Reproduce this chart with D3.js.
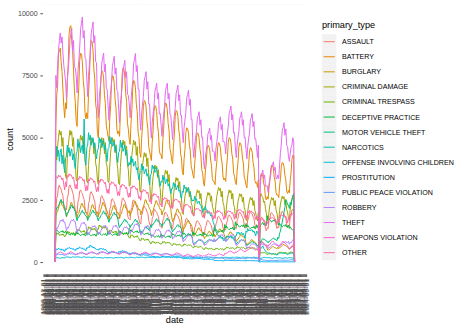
<!DOCTYPE html>
<html><head><meta charset="utf-8">
<script src="https://cdn.jsdelivr.net/npm/d3@7"></script>
<style>
body{margin:0;background:#fff}
svg{display:block}
text{font-family:"Liberation Sans",Arial,Helvetica,sans-serif}
</style>
</head><body>
<svg id="chart" width="474" height="329"></svg>
<script>
// ---------- DATA (monthly counts, 2001-01 .. 2023-08) ----------
const categories = ["ASSAULT","BATTERY","BURGLARY","CRIMINAL DAMAGE","CRIMINAL TRESPASS","DECEPTIVE PRACTICE","MOTOR VEHICLE THEFT","NARCOTICS","OFFENSE INVOLVING CHILDREN","PROSTITUTION","PUBLIC PEACE VIOLATION","ROBBERY","THEFT","WEAPONS VIOLATION","OTHER"];
const firstMonth = "2001-01-01";
const lastMonth = "2023-08-01";
const yTickValues = [0, 2500, 5000, 7500, 10000];

const assault = [
10,2090,2560,2690,3030,3090,2980,2930,2770,2670,2300,2090,
2150,2100,2570,2700,3050,3100,2990,2940,2780,2680,2310,2100,
2020,1970,2410,2530,2850,2900,2800,2760,2610,2510,2160,1970,
1970,1920,2350,2470,2780,2830,2740,2690,2540,2450,2110,1920,
1850,1810,2210,2330,2620,2670,2580,2530,2400,2310,1990,1810,
1770,1730,2120,2220,2510,2550,2460,2420,2290,2200,1900,1730,
1800,1750,2150,2260,2540,2580,2500,2450,2320,2230,1930,1750,
1740,1700,2080,2180,2460,2500,2420,2370,2250,2160,1870,1700,
1570,1530,1870,1970,2220,2250,2180,2140,2020,1950,1680,1530,
1470,1430,1750,1840,2080,2110,2040,2000,1900,1830,1580,1430,
1390,1360,1670,1750,1970,2010,1940,1900,1800,1730,1500,1360,
1360,1330,1630,1710,1930,1960,1890,1860,1760,1690,1460,1330,
1220,1190,1460,1530,1730,1760,1700,1670,1580,1520,1310,1190,
1160,1130,1380,1450,1640,1660,1610,1580,1490,1440,1240,1130,
1160,1140,1390,1460,1650,1680,1620,1590,1510,1450,1250,1140,
1280,1250,1530,1610,1810,1840,1780,1750,1650,1590,1370,1250,
1320,1290,1580,1660,1870,1900,1840,1800,1710,1640,1420,1290,
1390,1360,1670,1750,1970,2010,1940,1900,1800,1730,1500,1360,
1410,1380,1690,1770,2000,2030,1960,1930,1820,1750,1510,1380,
1450,1400,1500,250,1650,1800,1800,1750,1650,1600,1350,1250,
1390,1350,1660,1740,1960,1990,1930,1890,1790,1720,1490,1350,
1420,1380,1700,1780,2010,2040,1970,1940,1830,1760,1520,1380,
1480,1440,1760,1850,2090,2120,2050,10];

const battery = [
30,5500,6700,7050,8400,8450,8600,8050,7650,6950,6250,5800,
6400,6150,7250,7950,9150,9450,9500,8900,8450,7700,6900,6400,
5650,5450,6400,7050,8100,8400,8350,8050,7300,6950,6000,5750,
6000,5770,6780,7460,8580,8900,8850,8520,7750,7360,6360,6100,
5200,4990,5870,6450,7420,7700,7650,7380,6700,6370,5500,5280,
5060,4860,5720,6290,7230,7500,7460,7190,6530,6200,5350,5150,
5260,5050,5950,6530,7520,7800,7750,7470,6790,6450,5570,5340,
4920,4730,5560,6120,7030,7300,7250,7000,6350,6040,5210,5000,
4380,4210,4960,5450,6260,6500,6460,6230,5660,5380,4640,4460,
4250,4080,4800,5280,6060,6300,6260,6040,5480,5210,4500,4320,
4310,4150,4880,5360,6160,6400,6360,6130,5570,5300,4570,4390,
4110,3950,4650,5110,5870,6100,6060,5850,5310,5050,4350,4190,
3640,3500,4120,4520,5200,5400,5360,5180,4700,4470,3850,3710,
3510,3370,3960,4360,5000,5200,5160,4980,4530,4300,3710,3580,
3170,3050,3580,3940,4520,4700,4670,4510,4100,3890,3350,3240,
3230,3110,3660,4020,4620,4800,4770,4600,4180,3980,3420,3300,
3370,3240,3810,4190,4810,5000,4970,4790,4360,4140,3570,3440,
3230,3110,3660,4020,4620,4800,4770,4600,4180,3980,3420,3300,
3100,2980,3500,3860,4420,4600,4570,4410,4010,3810,3280,3170,
3200,3000,3300,600,3300,3550,3550,3450,3150,3050,2550,2500,
2630,2530,2970,3270,3750,3900,3880,3740,3400,3230,2780,2690,
2700,2590,3050,3350,3850,4000,3980,3840,3490,3310,2850,2760,
2880,2780,3270,3590,4120,4300,4270,15];

const burglary = [
10,1840,2000,2020,2170,2280,2430,2430,2280,2280,2170,2080,
2020,1810,1960,1980,2130,2240,2390,2390,2240,2240,2130,2040,
2000,1790,1930,1950,2100,2210,2350,2350,2210,2210,2100,2020,
1950,1740,1890,1910,2050,2150,2300,2300,2150,2150,2050,1970,
2020,1810,1960,1980,2130,2240,2390,2390,2240,2240,2130,2040,
1930,1730,1870,1890,2030,2130,2270,2270,2130,2130,2030,1950,
1970,1760,1900,1930,2070,2170,2320,2320,2170,2170,2070,1990,
2070,1850,2010,2030,2180,2290,2440,2440,2290,2290,2180,2090,
2120,1900,2050,2070,2230,2340,2500,2500,2340,2340,2230,2140,
2090,1870,2020,2050,2200,2310,2460,2460,2310,2310,2200,2110,
2110,1890,2040,2060,2220,2330,2490,2490,2330,2330,2220,2130,
1810,1620,1750,1770,1900,2000,2130,2130,2000,2000,1900,1820,
1420,1270,1370,1390,1490,1560,1670,1670,1560,1560,1490,1430,
1160,1040,1120,1130,1220,1280,1370,1370,1280,1280,1220,1170,
1050,940,1010,1020,1100,1160,1230,1230,1160,1160,1100,1060,
1130,1010,1090,1110,1190,1250,1330,1330,1250,1250,1190,1140,
1030,920,990,1000,1080,1130,1210,1210,1130,1130,1080,1040,
930,830,900,910,980,1030,1100,1100,1030,1030,980,940,
760,680,740,740,800,840,900,900,840,840,800,770,
700,650,680,110,750,850,800,780,720,720,680,650,
520,470,510,510,550,580,620,620,580,580,550,530,
600,540,580,590,630,660,710,710,660,660,630,600,
570,510,550,560,600,630,670,5];

const criminalDamage = [
10,4600,4100,4650,5000,5300,5100,5250,4650,5000,4250,4000,
3450,3350,4150,4650,5000,5300,5100,5250,4650,5000,4250,4000,
3300,3250,3950,4500,4800,5100,4900,5050,4450,4850,4050,3850,
3250,3180,3880,4400,4700,5000,4800,4950,4350,4750,3980,3780,
3300,3120,3950,4350,4750,5000,4750,4980,4350,4800,3950,3830,
3220,3200,3860,4420,4680,5000,4810,4930,4390,4720,4000,3760,
3170,3110,3800,4310,4610,4900,4700,4850,4280,4660,3900,3710,
3050,3080,3780,4300,4620,4900,4710,4840,4290,4640,3880,3680,
2850,2800,3410,3870,4140,4400,4230,4360,3840,4180,3500,3330,
2520,2480,3030,3430,3670,3900,3740,3860,3400,3710,3100,2950,
2400,2350,2870,3260,3480,3700,3550,3670,3230,3520,2940,2800,
2200,2160,2640,2990,3200,3400,3270,3370,2970,3230,2710,2570,
1950,1910,2330,2640,2820,3000,2880,2970,2620,2850,2390,2270,
1880,1850,2250,2550,2730,2900,2780,2870,2530,2760,2310,2200,
1820,1790,2170,2470,2640,2800,2690,2780,2440,2660,2230,2120,
1950,1910,2330,2640,2820,3000,2880,2970,2620,2850,2390,2270,
1880,1850,2250,2550,2730,2900,2780,2870,2530,2760,2310,2200,
1790,1760,2130,2430,2590,2750,2640,2730,2410,2610,2190,2090,
1690,1660,2020,2290,2450,2600,2490,2580,2270,2470,2070,1970,
1750,1650,2000,350,2550,2750,2650,2600,2400,2450,2150,1950,
1690,1660,2020,2290,2450,2600,2490,2580,2270,2470,2070,1970,
1720,1690,2060,2330,2500,2650,2540,2630,2310,2520,2110,2010,
1750,1720,2090,2370,2540,2700,2590,10];

const criminalTrespass = [
5,1050,1180,1130,1160,1080,1070,1120,1080,1130,1070,1010,
1100,1100,1240,1190,1220,1140,1130,1180,1140,1190,1130,1070,
1170,1170,1320,1270,1290,1210,1190,1250,1210,1270,1190,1130,
1260,1260,1420,1360,1390,1300,1290,1350,1300,1360,1290,1220,
1320,1320,1490,1430,1460,1360,1350,1420,1360,1430,1350,1280,
1150,1150,1290,1250,1270,1190,1170,1230,1190,1250,1170,1110,
1080,1080,1220,1170,1200,1120,1110,1160,1120,1170,1110,1050,
970,970,1100,1060,1080,1000,990,1050,1000,1060,990,940,
860,860,960,930,950,880,870,920,880,930,870,830,
740,740,830,800,820,760,760,800,760,800,760,720,
740,740,830,800,820,760,760,800,760,800,760,720,
670,670,750,720,740,690,680,710,690,720,680,640,
650,650,730,700,710,670,660,690,670,700,660,630,
580,580,650,630,640,600,590,620,600,630,590,560,
510,510,580,560,570,530,520,550,530,560,520,500,
500,500,560,540,550,510,510,540,510,540,510,480,
540,540,600,580,590,550,550,580,550,580,550,520,
550,550,620,590,600,560,560,590,560,590,560,530,
540,540,600,580,590,550,550,580,550,580,550,520,
520,500,450,80,350,380,370,380,370,380,360,330,
310,310,350,330,340,320,320,330,320,330,320,300,
360,360,400,390,390,370,360,380,370,390,360,350,
360,360,410,390,400,370,370,5];

const deceptivePractice = [
5,1240,1300,1240,1220,1180,1200,1240,1200,1260,1180,1180,
1250,1140,1200,1140,1120,1080,1110,1140,1110,1160,1080,1080,
1230,1120,1180,1120,1100,1060,1090,1120,1090,1140,1060,1060,
1220,1110,1170,1110,1090,1050,1080,1110,1080,1130,1050,1050,
1240,1130,1190,1130,1110,1070,1100,1130,1100,1150,1070,1070,
1240,1130,1190,1130,1110,1070,1100,1130,1100,1150,1070,1070,
1300,1180,1240,1180,1160,1120,1140,1180,1140,1200,1120,1120,
1360,1240,1300,1240,1220,1180,1200,1240,1200,1260,1180,1180,
1280,1160,1220,1160,1140,1100,1130,1160,1130,1180,1100,1100,
1160,1050,1100,1050,1030,1000,1020,1050,1020,1070,1000,1000,
1140,1040,1090,1040,1020,990,1010,1040,1010,1060,990,990,
1190,1080,1130,1080,1060,1030,1050,1080,1050,1100,1030,1030,
1220,1110,1170,1110,1090,1050,1080,1110,1080,1130,1050,1050,
1220,1110,1170,1110,1090,1050,1080,1110,1080,1130,1050,1050,
1200,1090,1140,1090,1070,1040,1060,1090,1060,1110,1040,1040,
1390,1260,1320,1260,1230,1200,1220,1260,1220,1290,1200,1200,
1510,1370,1440,1370,1340,1300,1330,1370,1330,1400,1300,1300,
1620,1470,1540,1470,1440,1400,1430,1470,1430,1500,1400,1400,
1550,1410,1480,1410,1380,1340,1370,1410,1370,1440,1340,1340,
1500,1400,1350,250,1450,1500,1550,1600,1500,1550,1450,1500,
1860,1690,1770,1690,1660,1610,1640,1690,1640,1720,1610,1610,
1630,1480,1550,1480,1450,1410,1440,1480,1440,1510,1410,1410,
1490,1350,1420,1350,1320,1280,1310,5];

const motorVehicleTheft = [
10,2020,2180,2180,2290,2340,2450,2520,2380,2430,2290,2240,
1990,1840,1990,1990,2090,2130,2240,2300,2170,2220,2090,2050,
1800,1660,1800,1800,1890,1930,2020,2080,1970,2000,1890,1850,
1810,1670,1810,1810,1900,1940,2030,2090,1980,2010,1900,1860,
1780,1650,1780,1780,1870,1910,2000,2060,1940,1980,1870,1830,
1730,1600,1730,1730,1820,1860,1950,2000,1890,1930,1820,1780,
1490,1380,1490,1490,1570,1600,1680,1730,1630,1660,1570,1540,
1490,1380,1490,1490,1570,1600,1680,1730,1630,1660,1570,1540,
1230,1140,1230,1230,1290,1320,1380,1420,1340,1370,1290,1260,
1500,1390,1500,1500,1580,1610,1690,1740,1640,1670,1580,1550,
1530,1420,1530,1530,1610,1640,1720,1770,1670,1710,1610,1580,
1300,1210,1300,1300,1370,1400,1470,1510,1420,1450,1370,1340,
1000,920,1000,1000,1050,1070,1120,1160,1090,1110,1050,1030,
780,730,780,780,830,840,880,910,860,870,830,810,
800,740,800,800,840,860,900,920,870,890,840,820,
890,830,890,890,940,960,1010,1030,980,1000,940,920,
900,840,900,900,950,970,1020,1050,990,1010,950,930,
790,730,790,790,830,850,890,910,860,880,830,810,
710,660,710,710,750,770,800,830,780,800,750,740,
700,650,700,140,750,850,900,950,900,920,860,850,
830,770,840,840,880,900,940,970,920,930,880,860,
1000,950,1150,1250,1450,1600,1800,2000,2200,2500,2450,2300,
2300,2150,2400,2300,2500,2600,2750,10];

const narcotics = [
10,4300,4650,4250,4500,4050,4400,4550,3950,4300,3850,3600,
4150,4300,4700,4400,4600,4250,4450,4550,4100,4350,3950,3750,
4350,4450,4950,4600,4800,4400,4600,4700,4350,5750,4150,3900,
4600,4700,5200,4900,5100,4700,4850,5000,4600,4800,4400,4150,
4500,4550,5000,4800,4950,4600,4750,4900,4500,4700,4300,4050,
4550,4600,5050,4750,5000,4650,4700,4850,4450,4650,4250,4000,
4400,4450,4900,4600,4800,4450,4550,4700,4300,4500,4100,3850,
4000,3900,4250,4000,4150,3850,3950,4050,3700,3800,3500,3300,
3550,3600,3950,3700,3850,3550,3650,3750,3450,3550,3300,3100,
3500,3550,3900,3750,3850,3600,3650,3800,3450,3500,3300,3050,
3250,3200,3500,3300,3400,3150,3250,3350,3050,3150,2950,2750,
2950,2950,3200,3050,3150,2900,3000,3100,2850,2900,2700,2550,
2850,2800,3100,2950,3000,2800,2900,3000,2750,2800,2600,2450,
2500,2450,2650,2500,2550,2350,2400,2450,2300,2300,2150,2000,
2150,2100,2250,2100,2100,1950,2000,2000,1850,1900,1750,1600,
1500,1300,1250,1150,1100,1050,1050,1050,950,1000,900,850,
950,950,1050,1000,1050,980,1000,1020,950,980,920,850,
1050,1050,1200,1150,1200,1100,1150,1200,1100,1150,1050,950,
1250,1200,1350,1250,1300,1250,1300,1300,1200,1250,1150,1050,
1250,1200,1100,150,500,550,600,650,550,500,450,400,
380,350,380,350,340,320,330,340,310,320,300,280,
320,330,370,360,370,350,360,370,340,350,320,300,
330,320,360,350,370,360,350,5];

const offenseInvolvingChildren = [
1,170,180,170,170,160,150,160,180,180,170,160,
210,200,210,200,200,190,180,190,210,210,200,190,
210,200,210,200,200,190,180,190,210,210,200,190,
200,190,200,190,190,180,170,180,200,200,190,180,
180,175,185,175,175,165,160,165,185,185,175,165,
185,170,180,175,175,170,155,170,180,185,175,170,
190,180,190,180,180,170,160,170,190,190,180,170,
195,185,195,185,185,175,165,175,195,195,185,175,
200,190,200,190,190,180,170,180,200,200,190,180,
200,190,200,190,190,180,170,180,200,200,190,180,
210,200,210,200,200,190,180,190,210,210,200,190,
200,190,200,190,190,180,170,180,200,200,190,180,
200,190,200,190,190,180,170,180,200,200,190,180,
190,180,190,180,180,170,160,170,190,190,180,170,
180,170,180,170,170,160,150,160,180,180,170,160,
190,180,190,180,180,170,160,170,190,190,180,170,
195,185,195,185,185,175,165,175,195,195,185,175,
200,190,200,190,190,180,170,180,200,200,190,180,
195,185,195,185,185,175,165,175,195,195,185,175,
190,180,170,30,150,160,160,170,190,190,180,170,
180,170,180,170,170,160,150,160,180,180,170,160,
175,165,175,165,165,155,150,155,175,175,165,155,
180,170,180,170,170,160,150,1];

const prostitution = [
2,480,530,500,560,520,500,530,470,510,450,430,
530,500,560,540,590,560,530,560,510,540,480,460,
540,510,570,540,600,570,540,570,510,540,490,460,
580,560,610,590,690,640,590,620,560,580,520,500,
510,480,540,510,560,540,510,540,480,510,460,430,
390,370,410,390,430,410,390,410,370,390,350,330,
420,400,440,420,460,440,420,440,400,420,380,360,
350,330,360,350,380,360,340,360,330,340,310,290,
280,270,290,280,310,290,280,290,270,280,250,240,
210,200,220,210,230,220,210,220,200,210,190,180,
220,210,230,220,240,230,220,230,210,220,200,190,
210,200,220,210,230,220,210,220,200,210,190,180,
140,130,150,140,150,150,140,150,130,140,130,120,
140,135,145,140,155,145,140,145,135,140,125,120,
110,100,120,110,120,115,110,115,105,110,100,95,
70,60,65,60,65,60,60,60,55,60,50,50,
65,60,70,65,70,70,65,70,60,65,60,55,
60,55,60,58,65,60,58,60,55,58,52,50,
57,54,60,57,63,60,57,60,54,57,51,48,
50,45,30,3,10,15,15,15,12,12,10,10,
10,10,12,11,12,12,11,12,10,11,10,9,
9,8,10,9,10,10,9,10,8,9,8,8,
9,9,10,10,11,10,10,1];

const publicPeaceViolation = [
2,270,310,300,330,310,300,310,300,300,280,270,
290,290,340,320,350,340,320,340,320,320,300,290,
310,310,360,340,370,360,340,360,340,340,320,310,
320,320,380,360,400,380,360,380,360,360,340,320,
340,340,400,380,420,400,380,400,380,380,360,340,
340,340,400,380,420,400,380,400,380,380,360,340,
330,330,390,370,410,390,370,390,370,370,350,330,
290,290,340,320,350,340,320,340,320,320,300,290,
300,300,350,330,360,350,330,350,330,330,310,300,
310,310,360,340,370,360,340,360,340,340,320,310,
290,290,340,320,350,340,320,340,320,320,300,290,
250,250,290,280,310,290,280,290,280,280,270,250,
210,210,240,230,250,240,230,240,230,230,220,210,
180,180,210,200,220,210,200,210,200,200,190,180,
180,180,210,200,220,210,200,210,200,200,190,180,
140,140,170,160,180,170,160,170,160,160,150,140,
120,120,140,130,140,140,130,140,130,130,120,120,
130,130,150,140,150,150,140,150,140,140,130,130,
140,140,170,160,180,170,160,170,160,160,150,140,
140,140,120,15,80,110,90,85,80,80,70,65,
60,60,70,65,70,70,65,70,65,65,60,60,
70,70,80,75,80,80,75,80,75,75,70,70,
80,80,90,85,95,90,85,1];

const robbery = [
5,1260,1380,1350,1460,1540,1660,1690,1640,1720,1610,1610,
1460,1260,1390,1360,1460,1540,1660,1690,1650,1720,1620,1620,
1370,1180,1300,1270,1370,1440,1560,1580,1540,1610,1510,1510,
1250,1080,1180,1160,1250,1320,1420,1450,1410,1470,1380,1380,
1260,1090,1200,1170,1260,1330,1440,1460,1420,1490,1400,1400,
1260,1090,1200,1170,1260,1330,1440,1460,1420,1490,1400,1400,
1220,1050,1150,1130,1220,1280,1380,1410,1370,1430,1340,1340,
1320,1140,1250,1220,1320,1390,1500,1530,1490,1560,1460,1460,
1250,1080,1190,1160,1250,1320,1430,1450,1410,1480,1390,1390,
1130,980,1070,1050,1130,1190,1290,1310,1270,1330,1250,1250,
1100,950,1040,1020,1100,1160,1250,1280,1240,1300,1220,1220,
1070,920,1010,990,1070,1130,1220,1240,1200,1260,1180,1180,
940,810,890,870,940,990,1060,1080,1050,1100,1030,1030,
780,670,740,720,780,820,880,900,870,920,860,860,
760,660,720,700,760,800,860,880,860,900,840,840,
940,810,890,870,940,990,1070,1090,1060,1110,1040,1040,
940,810,890,870,940,990,1070,1090,1060,1110,1040,1040,
770,660,730,710,770,810,870,890,870,910,850,850,
630,550,600,590,630,670,720,730,710,740,700,700,
640,560,580,100,600,750,700,720,690,720,680,700,
630,540,590,580,630,660,710,730,710,740,690,690,
700,610,670,650,700,740,800,810,790,830,780,780,
830,720,790,770,830,880,950,5];

const theft = [
20,7500,7000,7900,8500,8900,9200,8800,9050,8400,7900,7600,
7240,6550,7300,7750,8200,8950,9150,9400,8500,8900,7850,7800,
7500,6800,7650,8100,8600,9350,9600,9850,9000,9300,8200,8150,
7350,6650,7500,7950,8400,9200,9400,9650,8800,9100,8050,8000,
6400,5800,6550,6950,7300,8000,8200,8400,7650,7950,7000,6950,
6300,5700,6450,6850,7200,7900,8050,8270,7550,7800,6900,6850,
6150,5600,6300,6700,7050,7750,7900,8110,7400,7650,6750,6700,
6350,5800,6500,6950,7300,8000,8150,8380,7650,7900,6950,6950,
5800,5300,5950,6350,6650,7300,7450,7650,6950,7250,6350,6350,
5450,4980,5600,5950,6250,6850,7000,7190,6550,6800,5950,5980,
5500,5050,5600,5950,6300,6900,7050,7190,6550,6780,5950,5900,
5400,4920,5520,5880,6200,6780,6920,7110,6480,6720,5900,5900,
5250,4800,5380,5720,6020,6600,6730,6910,6300,6540,5730,5740,
4600,4200,4700,5000,5250,5780,5880,6040,5500,5720,5000,5020,
4080,3740,4180,4450,4680,5150,5230,5380,4900,5090,4450,4470,
4430,4060,4540,4830,5080,5590,5680,5840,5320,5530,4830,4850,
4760,4350,4870,5190,5450,5990,6100,6270,5710,5930,5190,5210,
4580,4200,4700,5000,5250,5780,5880,6040,5500,5720,5000,5020,
4530,4150,4650,4950,5190,5710,5810,5970,5440,5650,4940,4960,
4600,4200,4700,880,3000,3400,3550,3700,3350,3500,3050,3050,
3060,2800,3130,3330,3500,3860,3920,4030,3670,3810,3340,3350,
3500,3350,3900,4400,4750,5300,5400,5600,5100,5350,4700,4650,
4250,4050,4350,4600,4700,5000,4830,20];

const weaponsViolation = [
2,300,340,340,370,390,410,390,370,360,340,320,
320,310,340,340,380,400,410,400,380,360,340,320,
320,300,330,330,370,390,400,390,370,350,330,320,
320,310,340,340,380,400,410,400,380,360,340,320,
330,310,350,350,380,400,420,400,380,370,350,330,
340,320,360,360,390,410,430,410,390,380,360,340,
330,310,350,350,380,400,420,400,380,370,350,330,
310,290,320,320,360,370,390,370,360,340,320,310,
320,300,330,330,370,390,400,390,370,350,330,320,
280,260,290,290,330,340,360,340,330,310,290,280,
270,260,290,290,320,330,350,330,320,300,290,270,
290,280,310,310,340,360,370,360,340,330,310,290,
240,230,260,260,280,300,310,300,280,270,260,240,
230,220,250,250,270,290,300,290,270,260,250,230,
260,240,270,270,300,310,330,310,300,290,270,260,
260,240,270,270,300,310,330,310,300,290,270,260,
350,330,370,370,410,430,450,430,410,390,370,350,
410,380,430,430,470,500,520,500,470,450,430,410,
470,450,500,500,550,580,600,580,550,530,500,470,
520,500,550,100,650,750,800,800,750,700,650,620,
670,630,700,700,780,810,850,810,780,740,700,670,
660,620,690,690,770,800,840,800,770,730,690,660,
560,530,590,590,660,690,720,2];

const other = [
15,3400,3430,3370,3500,3430,3470,3400,3300,3370,3100,2900,
3220,3020,3480,3420,3550,3480,3520,3450,3350,3420,3150,2950,
3120,2930,3380,3320,3450,3380,3410,3350,3250,3320,3060,2860,
3070,2880,3330,3260,3390,3330,3360,3300,3200,3260,3010,2820,
3020,2840,3280,3210,3340,3280,3310,3240,3150,3210,2960,2770,
2930,2750,3170,3110,3230,3170,3200,3140,3050,3110,2870,2680,
2830,2660,3070,3010,3130,3070,3100,3040,2950,3010,2770,2600,
2780,2610,3020,2960,3070,3020,3050,2990,2900,2960,2730,2550,
2640,2480,2860,2810,2920,2860,2890,2830,2750,2810,2590,2420,
2500,2340,2700,2650,2760,2700,2730,2680,2600,2650,2440,2290,
2350,2210,2550,2500,2600,2550,2570,2520,2450,2500,2300,2160,
2300,2160,2500,2450,2540,2500,2520,2470,2400,2450,2260,2110,
2110,1980,2290,2240,2330,2290,2310,2270,2200,2240,2070,1940,
1970,1850,2130,2090,2170,2130,2150,2110,2050,2090,1930,1800,
1870,1760,2030,1990,2070,2030,2050,2010,1950,1990,1830,1720,
1880,1750,2040,1980,2080,2020,2060,2000,1960,1980,1840,1710,
1870,1760,2030,1990,2070,2030,2050,2010,1950,1990,1830,1720,
1920,1800,2080,2040,2120,2080,2100,2060,2000,2040,1880,1760,
1880,1750,2040,1980,2080,2020,2060,2000,1960,1980,1840,1710,
1850,1750,1800,300,1600,1700,1750,1720,1650,1680,1550,1450,
1630,1530,1770,1730,1800,1770,1790,1750,1700,1730,1600,1500,
1730,1620,1870,1840,1910,1870,1890,1850,1800,1840,1690,1580,
1780,1670,1920,1890,1960,1920,1940,15];

const seriesValues = [assault, battery, burglary, criminalDamage, criminalTrespass, deceptivePractice, motorVehicleTheft, narcotics, offenseInvolvingChildren, prostitution, publicPeaceViolation, robbery, theft, weaponsViolation, other];
const colors = ["#F8766D","#E58700","#C99800","#A3A500","#6BB100","#00BA38","#00BF7D","#00C0AF","#00BCD8","#00B0F6","#619CFF","#B983FF","#E76BF3","#FD61D1","#FF67A4"];

// ---------- LAYOUT ----------
const panel = {left: 43, right: 306.6, top: 4.7, bottom: 274.3};
const parse = d3.timeParse("%Y-%m-%d");
const d0 = parse(firstMonth), d1 = parse(lastMonth);
const months = d3.timeMonth.range(d0, d3.timeMonth.offset(d1, 1));

const svg = d3.select("#chart");
const tpad = (d1 - d0) * 0.05;
const x = d3.scaleTime().domain([new Date(+d0 - tpad), new Date(+d1 + tpad)]).range([panel.left, panel.right]);
const allVals = seriesValues.flat();
const vmin = d3.min(allVals), vmax = d3.max(allVals), vpad = (vmax - vmin) * 0.05;
const y = d3.scaleLinear().domain([vmin - vpad, vmax + vpad]).range([panel.bottom, panel.top]);

// panel background
svg.append("rect").attr("x", panel.left).attr("y", panel.top)
  .attr("width", panel.right - panel.left).attr("height", panel.bottom - panel.top)
  .attr("fill", "#EBEBEB");

const xBreaks = d3.timeMonth.range(d3.timeMonth.ceil(x.domain()[0]), x.domain()[1]);
const xMinor = d3.pairs(xBreaks).map(([a, b]) => new Date((+a + +b) / 2));
const yMinor = d3.pairs(yTickValues).map(([a, b]) => (a + b) / 2);
const grid = svg.append("g");
grid.selectAll(".yminor").data(yMinor).join("line")
  .attr("x1", panel.left).attr("x2", panel.right)
  .attr("y1", d => y(d)).attr("y2", d => y(d))
  .attr("stroke", "#fff").attr("stroke-width", 0.45);
grid.selectAll(".xminor").data(xMinor).join("line")
  .attr("x1", d => x(d)).attr("x2", d => x(d))
  .attr("y1", panel.top).attr("y2", panel.bottom)
  .attr("stroke", "#fff").attr("stroke-width", 0.7);
grid.selectAll(".ymajor").data(yTickValues).join("line")
  .attr("x1", panel.left).attr("x2", panel.right)
  .attr("y1", d => y(d)).attr("y2", d => y(d))
  .attr("stroke", "#fff").attr("stroke-width", 0.9);
grid.selectAll(".xmajor").data(xBreaks).join("line")
  .attr("x1", d => x(d)).attr("x2", d => x(d))
  .attr("y1", panel.top).attr("y2", panel.bottom)
  .attr("stroke", "#fff").attr("stroke-width", 1.3);

// lines
const line = d3.line().x((d, i) => x(months[i])).y(d => y(d));
svg.append("g").selectAll("path").data(seriesValues).join("path")
  .attr("d", d => line(d))
  .attr("fill", "none")
  .attr("stroke", (d, i) => colors[i])
  .attr("stroke-width", 1)
  .attr("stroke-linejoin", "round");

// axes
const fmt = d3.timeFormat("%Y-%m-%d");
const xAxis = svg.append("g").attr("transform", `translate(0,${panel.bottom})`)
  .call(d3.axisBottom(x).tickValues(xBreaks).tickFormat(fmt).tickSize(2.7).tickSizeOuter(0));
xAxis.select(".domain").remove();
xAxis.selectAll(".tick line").attr("stroke", "#333333").attr("stroke-width", 0.8);
xAxis.selectAll(".tick text")
  .attr("transform", "rotate(-90)")
  .attr("text-anchor", "end")
  .attr("x", -4.2).attr("y", 0).attr("dy", "0.35em")
  .attr("fill", "#4D4D4D").style("font-size", "7.1px")
  .style("font-family", "'Liberation Sans', Arial, sans-serif");

const yAxis = svg.append("g").attr("transform", `translate(${panel.left},0)`)
  .call(d3.axisLeft(y).tickValues(yTickValues).tickFormat(d3.format("d")).tickSize(2.7).tickPadding(2.6));
yAxis.select(".domain").remove();
yAxis.selectAll(".tick line").attr("stroke", "#333333").attr("stroke-width", 0.8);
yAxis.selectAll(".tick text").attr("fill", "#4D4D4D").style("font-size", "7.1px")
  .style("font-family", "'Liberation Sans', Arial, sans-serif");

// axis titles
svg.append("text").attr("x", (panel.left + panel.right) / 2).attr("y", 323.3)
  .attr("text-anchor", "middle").style("font-size", "9.2px").attr("fill", "#000").text("date");
svg.append("text").attr("transform", `translate(12.5,${(panel.top + panel.bottom) / 2}) rotate(-90)`)
  .attr("text-anchor", "middle").style("font-size", "9.2px").attr("fill", "#000").text("count");

// legend
const lg = svg.append("g").attr("transform", "translate(322,0)");
lg.append("text").attr("x", 0).attr("y", 27.5).style("font-size", "9.2px").attr("fill", "#000").text("primary_type");
const step = 15.07, first = 41.7, keyW = 14.4;
const items = lg.selectAll(".item").data(categories).join("g")
  .attr("transform", (d, i) => `translate(0,${first + i * step})`);
items.append("rect").attr("x", 0).attr("y", -step / 2).attr("width", keyW).attr("height", step).attr("fill", "#F2F2F2");
items.append("line").attr("x1", 1.6).attr("x2", keyW - 1.6).attr("y1", 0).attr("y2", 0)
  .attr("stroke", (d, i) => colors[i]).attr("stroke-width", 1);
items.append("text").attr("x", 20).attr("y", 0).attr("dy", "0.35em")
  .style("font-size", "7.1px").attr("fill", "#000").text(d => d);
</script>
</body></html>
